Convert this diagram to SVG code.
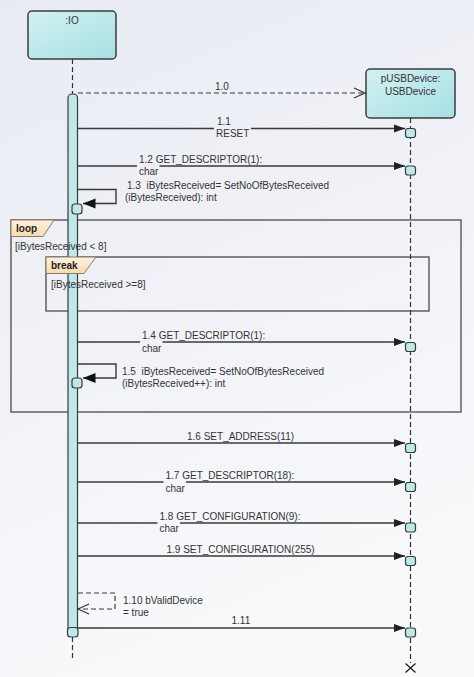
<svg xmlns="http://www.w3.org/2000/svg" width="474" height="677" viewBox="0 0 474 677">
<defs>
<linearGradient id="bg" x1="0" y1="0" x2="0.3" y2="1">
<stop offset="0" stop-color="#e8ebf3"/>
<stop offset="1" stop-color="#f8f9fb"/>
</linearGradient>
<linearGradient id="box" x1="0" y1="0" x2="1" y2="1">
<stop offset="0" stop-color="#d2f1f2"/>
<stop offset="1" stop-color="#a6e0e4"/>
</linearGradient>
<linearGradient id="tab" x1="0" y1="0" x2="0" y2="1">
<stop offset="0" stop-color="#fdf2e0"/>
<stop offset="1" stop-color="#f6dcae"/>
</linearGradient>
<marker id="fill" markerWidth="12" markerHeight="10" refX="11" refY="4.5" orient="auto" markerUnits="userSpaceOnUse">
<path d="M0,0.5 L11,4.5 L0,8.5 Z" fill="#222"/>
</marker>
<marker id="open" markerWidth="14" markerHeight="12" refX="12" refY="6" orient="auto" markerUnits="userSpaceOnUse">
<path d="M1,1 L12,6 L1,11" fill="none" stroke="#333" stroke-width="1.1"/>
</marker>
<marker id="selfarrow" markerWidth="14" markerHeight="12" refX="12.5" refY="5" orient="auto" markerUnits="userSpaceOnUse">
<path d="M0,0 L12.5,5 L0,10 Z" fill="#111"/>
</marker>
</defs>
<style>
text { font-family: "Liberation Sans", Arial, sans-serif; font-size: 10px; fill: #333; }
.bold { font-weight: bold; fill: #222; }
.mid { text-anchor: middle; }
.msg { stroke: #3a3a3a; stroke-width: 1.4; fill: none; }
.dash { stroke: #3a3a3a; stroke-width: 1.2; fill: none; stroke-dasharray: 5,3; }
.life { stroke: #333; stroke-width: 1.2; stroke-dasharray: 5,3; fill: none; }
.obj { fill: url(#box); stroke: #3c3c3c; stroke-width: 1.5; }
.act { fill: #bfe8e9; stroke: #3a3a3a; stroke-width: 1.2; }
.frame { fill: none; stroke: #4a4a4a; stroke-width: 1.3; }
.tab { fill: url(#tab); stroke: #8a7a66; stroke-width: 1; }
</style>
<rect x="0" y="0" width="474" height="677" fill="url(#bg)"/>

<g id="frames">
<rect class="frame" x="11" y="220" width="450" height="192"/>
<rect class="frame" x="46" y="257" width="383" height="54"/>
</g>

<g id="lifeline-io">
<rect class="obj" x="28" y="11" width="88" height="48" rx="4"/>
<text class="mid" x="72" y="24">:IO</text>
<line class="life" x1="72.5" y1="59" x2="72.5" y2="94"/>
<line class="life" x1="72.5" y1="637" x2="72.5" y2="658"/>
<rect class="act" x="68" y="94" width="9.5" height="538" rx="4"/>
<rect class="act" x="67.5" y="627.5" width="10.5" height="9.5" rx="3"/>
</g>

<g id="lifeline-usb">
<rect class="obj" x="366" y="69" width="89" height="49" rx="4"/>
<text class="mid" x="410.5" y="82">pUSBDevice:</text>
<text class="mid" x="410.5" y="95">USBDevice</text>
<line class="life" x1="410.5" y1="118" x2="410.5" y2="663"/>
<path d="M405.5,663.5 L415.5,672.5 M415.5,663.5 L405.5,672.5" stroke="#222" stroke-width="1.3"/>
</g>

<g id="frame-tabs">
<polygon class="tab" points="11,220 54,220 43,236.5 11,236.5"/>
<text class="bold" x="16" y="232">loop</text>
<text x="15" y="250">[iBytesReceived &lt; 8]</text>
<polygon class="tab" points="46,257 96,257 84,273.5 46,273.5"/>
<text class="bold" x="51" y="269">break</text>
<text x="51" y="288">[iBytesReceived &gt;=8]</text>
</g>

<g id="connectors">
<line class="dash" x1="78" y1="93" x2="365" y2="93" marker-end="url(#open)"/>
<text x="215" y="90">1.0</text>
<line class="msg" x1="78" y1="128.5" x2="214" y2="128.5"/>
<line class="msg" x1="251" y1="128.5" x2="405" y2="128.5" marker-end="url(#fill)"/>
<text x="217" y="125">1.1</text>
<text x="216" y="136.5">RESET</text>
<line class="msg" x1="78" y1="166" x2="137" y2="166"/>
<line class="msg" x1="159.5" y1="166" x2="405" y2="166" marker-end="url(#fill)"/>
<text x="139" y="163">1.2 GET_DESCRIPTOR(1):</text>
<text x="139" y="174.5">char</text>
<path class="msg" d="M78,189.5 H116 V203.5 H83" marker-end="url(#selfarrow)"/>
<text x="127" y="189" xml:space="preserve">1.3  iBytesReceived= SetNoOfBytesReceived</text>
<text x="125" y="201">(iBytesReceived): int</text>
<line class="msg" x1="78" y1="342" x2="140" y2="342"/>
<line class="msg" x1="162.5" y1="342" x2="405" y2="342" marker-end="url(#fill)"/>
<text x="142" y="339">1.4 GET_DESCRIPTOR(1):</text>
<text x="142" y="351.5">char</text>
<path class="msg" d="M78,364 H116 V378 H83" marker-end="url(#selfarrow)"/>
<text x="122" y="375" xml:space="preserve">1.5  iBytesReceived= SetNoOfBytesReceived</text>
<text x="122" y="387">(iBytesReceived++): int</text>
<line class="msg" x1="78" y1="443" x2="405" y2="443" marker-end="url(#fill)"/>
<text x="187" y="439.5">1.6 SET_ADDRESS(11)</text>
<line class="msg" x1="78" y1="482" x2="163.5" y2="482"/>
<line class="msg" x1="186" y1="482" x2="405" y2="482" marker-end="url(#fill)"/>
<text x="165.5" y="479">1.7 GET_DESCRIPTOR(18):</text>
<text x="165.5" y="491.5">char</text>
<line class="msg" x1="78" y1="523" x2="157.5" y2="523"/>
<line class="msg" x1="180" y1="523" x2="405" y2="523" marker-end="url(#fill)"/>
<text x="159.5" y="519.5">1.8 GET_CONFIGURATION(9):</text>
<text x="159.5" y="531.5">char</text>
<line class="msg" x1="78" y1="556" x2="405" y2="556" marker-end="url(#fill)"/>
<text x="166.5" y="552.5">1.9 SET_CONFIGURATION(255)</text>
<path class="dash" d="M78,593 H115 V609 H78" marker-end="url(#open)"/>
<text x="123" y="603.5">1.10 bValidDevice</text>
<text x="123" y="616">= true</text>
<line class="msg" x1="78" y1="628" x2="405" y2="628" marker-end="url(#fill)"/>
<text x="231.5" y="624">1.11</text>
</g>

<g id="activations">
<rect class="act" x="72" y="204" width="10" height="10" rx="3"/>
<rect class="act" x="72" y="378" width="10" height="10" rx="3"/>
<rect class="act" x="405.5" y="128.5" width="10" height="9" rx="2.5"/>
<rect class="act" x="405.5" y="166" width="10" height="9" rx="2.5"/>
<rect class="act" x="405.5" y="342.5" width="10" height="9" rx="2.5"/>
<rect class="act" x="405.5" y="443.5" width="10" height="9" rx="2.5"/>
<rect class="act" x="405.5" y="482.5" width="10" height="9" rx="2.5"/>
<rect class="act" x="405.5" y="523" width="10" height="9" rx="2.5"/>
<rect class="act" x="405.5" y="556.5" width="10" height="9" rx="2.5"/>
<rect class="act" x="405.5" y="628" width="10" height="9" rx="2.5"/>
</g>
</svg>
